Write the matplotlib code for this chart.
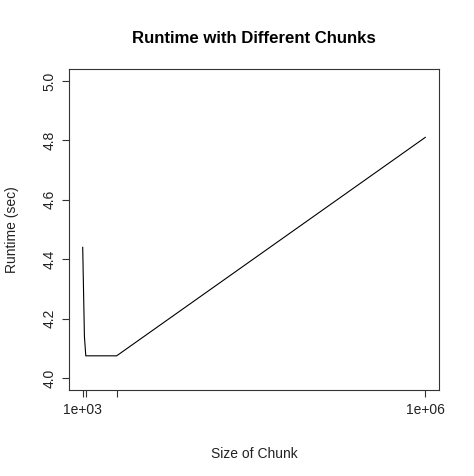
import numpy as np
import matplotlib
matplotlib.use("Agg")
import matplotlib.pyplot as plt

chunk_size = [1000, 2000, 4000, 6000, 10000, 100000, 1000000]
runtime = [4.44, 4.38, 4.26, 4.14, 4.075, 4.075, 4.81]

x_ticks = [1e3, 1e4, 1e5, 1e6]
x_labels = ["1e+03", "", "", "1e+06"]
y_ticks = [4.0, 4.2, 4.4, 4.6, 4.8, 5.0]

plt.rcParams['font.family'] = ['Liberation Sans', 'DejaVu Sans']

fig = plt.figure(figsize=(4.74, 4.76), dpi=100)
ax = fig.add_axes([69/474, 1 - 390/476, 370/474, 321/476])

ax.plot(chunk_size, runtime, color="black", linewidth=0.8)

# R style 4% padding on axis ranges
xr = 1e6 - 1e3
ax.set_xlim(1e3 - 0.04 * xr, 1e6 + 0.04 * xr)
ax.set_ylim(4.0 - 0.04, 5.0 + 0.04)

ax.set_xticks(x_ticks)
ax.set_xticklabels(x_labels)
ax.set_yticks(y_ticks)
ax.set_yticklabels([f"{v:.1f}" for v in y_ticks], rotation=90, va="center")

ax.tick_params(axis="both", direction="out", length=5, width=0.8,
               labelsize=10, pad=4, color="#333333", labelcolor="#222222")
for s in ax.spines.values():
    s.set_linewidth(0.8)
    s.set_color("#333333")

ax.set_title("Runtime with Different Chunks", fontsize=12.1, fontweight="bold", pad=19)
ax.set_xlabel("Size of Chunk", fontsize=10, labelpad=22, color="#222222")
ax.set_ylabel("Runtime (sec)", fontsize=10, labelpad=17, color="#222222")

fig.savefig("out.png", dpi=100)
